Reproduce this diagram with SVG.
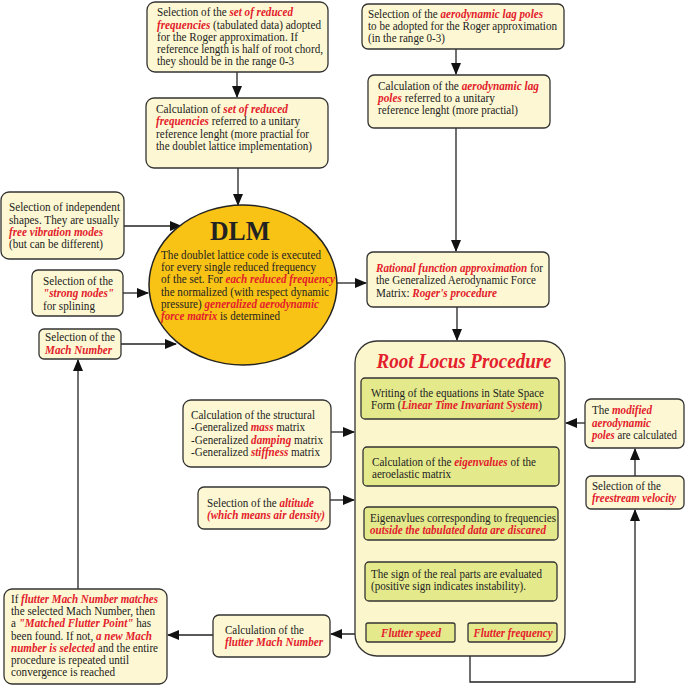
<svg xmlns="http://www.w3.org/2000/svg" width="685" height="685" viewBox="0 0 685 685">
<style>
text{font-family:"Liberation Serif","Times New Roman",serif;font-size:11.5px;fill:#222}
.r{font-style:italic;font-weight:bold;fill:#e3202b}
.bx{fill:#fdf8d3;stroke:#333;stroke-width:1.3}
.gb{fill:#e4e98c;stroke:#333;stroke-width:1.3}
.ln{fill:none;stroke:#222;stroke-width:1.3}
</style>
<defs>
<marker id="ah" markerWidth="12" markerHeight="10" refX="11" refY="5" orient="auto" markerUnits="userSpaceOnUse"><path d="M0,0 L12,5 L0,10 Z" fill="#111"/></marker>
</defs>
<g id="connectors">
<line class="ln" x1="237" y1="72" x2="237" y2="97" marker-end="url(#ah)"/>
<line class="ln" x1="238" y1="168" x2="238" y2="205" marker-end="url(#ah)"/>
<line class="ln" x1="456" y1="49" x2="456" y2="74" marker-end="url(#ah)"/>
<line class="ln" x1="456" y1="128" x2="456" y2="251" marker-end="url(#ah)"/>
<line class="ln" x1="124" y1="226" x2="181" y2="226" marker-end="url(#ah)"/>
<line class="ln" x1="123" y1="293" x2="148" y2="293" marker-end="url(#ah)"/>
<line class="ln" x1="121" y1="344" x2="176" y2="344" marker-end="url(#ah)"/>
<line class="ln" x1="337" y1="283" x2="366" y2="283" marker-end="url(#ah)"/>
<line class="ln" x1="457" y1="307" x2="457" y2="340" marker-end="url(#ah)"/>
<line class="ln" x1="331" y1="432" x2="354" y2="432" marker-end="url(#ah)"/>
<line class="ln" x1="330" y1="500" x2="354" y2="500" marker-end="url(#ah)"/>
<line class="ln" x1="585" y1="423" x2="566" y2="423" marker-end="url(#ah)"/>
<line class="ln" x1="635" y1="476" x2="635" y2="449" marker-end="url(#ah)"/>
<polyline class="ln" points="470,656 470,682 635,682 635,510" marker-end="url(#ah)"/>
<line class="ln" x1="459" y1="419" x2="459" y2="446" marker-end="url(#ah)"/>
<line class="ln" x1="458" y1="486" x2="458" y2="506" marker-end="url(#ah)"/>
<line class="ln" x1="459" y1="540" x2="459" y2="561" marker-end="url(#ah)"/>
<line class="ln" x1="407" y1="601" x2="407" y2="622" marker-end="url(#ah)"/>
<line class="ln" x1="510" y1="601" x2="510" y2="622" marker-end="url(#ah)"/>
<line class="ln" x1="366" y1="634" x2="331" y2="634" marker-end="url(#ah)"/>
<line class="ln" x1="213" y1="635" x2="168" y2="635" marker-end="url(#ah)"/>
<line class="ln" x1="78" y1="589" x2="78" y2="360" marker-end="url(#ah)"/>
</g>
<g id="nA"><rect class="bx" x="147" y="2" width="181" height="70" rx="8"/>
<text x="157" y="16" textLength="136" lengthAdjust="spacingAndGlyphs">Selection of the <tspan class="r">set of reduced</tspan></text>
<text x="157" y="28.5" textLength="164" lengthAdjust="spacingAndGlyphs"><tspan class="r">frequencies</tspan> (tabulated data) adopted</text>
<text x="157" y="41" textLength="141" lengthAdjust="spacingAndGlyphs">for the Roger approximation. If</text>
<text x="157" y="53" textLength="166" lengthAdjust="spacingAndGlyphs">reference length is half of root chord,</text>
<text x="157" y="65" textLength="137" lengthAdjust="spacingAndGlyphs">they should be in the range 0-3</text></g>
<g id="nB"><rect class="bx" x="146" y="98" width="182" height="70" rx="8"/>
<text x="156" y="113" textLength="132" lengthAdjust="spacingAndGlyphs">Calculation of  <tspan class="r">set of reduced</tspan></text>
<text x="156" y="125" textLength="144" lengthAdjust="spacingAndGlyphs"><tspan class="r">frequencies</tspan> referred to a unitary</text>
<text x="156" y="138" textLength="153" lengthAdjust="spacingAndGlyphs">reference lenght (more practial for</text>
<text x="156" y="150" textLength="156" lengthAdjust="spacingAndGlyphs">the doublet lattice implementation)</text></g>
<g id="nC"><rect class="bx" x="362" y="4" width="202" height="45" rx="6"/>
<text x="368" y="18" textLength="175" lengthAdjust="spacingAndGlyphs">Selection of the <tspan class="r">aerodynamic lag poles</tspan></text>
<text x="368" y="30" textLength="189" lengthAdjust="spacingAndGlyphs">to be adopted for the Roger approximation</text>
<text x="368" y="42" textLength="77" lengthAdjust="spacingAndGlyphs">(in the range 0-3)</text></g>
<g id="nD"><rect class="bx" x="368" y="75" width="182" height="53" rx="6"/>
<text x="378" y="90" textLength="161" lengthAdjust="spacingAndGlyphs">Calculation of the  <tspan class="r">aerodynamic lag</tspan></text>
<text x="378" y="102" textLength="117" lengthAdjust="spacingAndGlyphs"><tspan class="r">poles</tspan>  referred to a unitary</text>
<text x="378" y="114" textLength="140" lengthAdjust="spacingAndGlyphs">reference lenght (more practial)</text></g>
<g id="nE"><rect class="bx" x="1" y="192" width="123" height="67" rx="8"/>
<text x="9" y="211" textLength="111" lengthAdjust="spacingAndGlyphs">Selection of independent</text>
<text x="9" y="224" textLength="110" lengthAdjust="spacingAndGlyphs">shapes. They are usually</text>
<text x="9" y="236" textLength="94" lengthAdjust="spacingAndGlyphs" class="r">free vibration modes</text>
<text x="9" y="248" textLength="94" lengthAdjust="spacingAndGlyphs">(but can be different)</text></g>
<g id="nF"><rect class="bx" x="32" y="270" width="91" height="46" rx="6"/>
<text x="43" y="285" textLength="70" lengthAdjust="spacingAndGlyphs">Selection of the</text>
<text x="43" y="297" textLength="71" lengthAdjust="spacingAndGlyphs" class="r">"strong nodes"</text>
<text x="43" y="310" textLength="52" lengthAdjust="spacingAndGlyphs">for splining</text></g>
<g id="nG"><rect class="bx" x="39" y="329" width="82" height="30" rx="5"/>
<text x="45" y="341" textLength="70" lengthAdjust="spacingAndGlyphs">Selection of the</text>
<text x="45" y="354" textLength="67" lengthAdjust="spacingAndGlyphs" class="r">Mach Number</text></g>
<g id="nDLM"><ellipse cx="243" cy="285" rx="94" ry="80" fill="#f9c316" stroke="#222" stroke-width="1.5"/>
<text x="240" y="240" text-anchor="middle" style="font-size:28px;font-weight:bold" textLength="60" lengthAdjust="spacingAndGlyphs">DLM</text>
<text x="161" y="259" textLength="160" lengthAdjust="spacingAndGlyphs">The doublet lattice code is executed</text>
<text x="161" y="271" textLength="155" lengthAdjust="spacingAndGlyphs">for every single reduced frequency</text>
<text x="161" y="283" textLength="174" lengthAdjust="spacingAndGlyphs">of the set. For <tspan class="r">each reduced frequency</tspan></text>
<text x="161" y="296" textLength="168" lengthAdjust="spacingAndGlyphs">the normalized (with respect dynamic</text>
<text x="161" y="308" textLength="158" lengthAdjust="spacingAndGlyphs">pressure) <tspan class="r">generalized aerodynamic</tspan></text>
<text x="161" y="320" textLength="119" lengthAdjust="spacingAndGlyphs"><tspan class="r">force matrix</tspan> is determined</text></g>
<g id="nRat"><rect class="bx" x="367" y="252" width="182" height="55" rx="6"/>
<text x="376" y="272" textLength="167" lengthAdjust="spacingAndGlyphs"><tspan class="r">Rational function approximation</tspan> for</text>
<text x="376" y="284" textLength="160" lengthAdjust="spacingAndGlyphs">the Generalized Aerodynamic Force</text>
<text x="376" y="297" textLength="121" lengthAdjust="spacingAndGlyphs">Matrix: <tspan class="r">Roger's procedure</tspan></text></g>
<g id="nRoot"><rect x="355" y="341" width="210" height="315" rx="22" fill="#fcf6cd" stroke="#333" stroke-width="1.3"/>
<text x="464" y="368" text-anchor="middle" class="r" style="font-size:20px" textLength="175" lengthAdjust="spacingAndGlyphs">Root Locus Procedure</text></g>
<g id="n1"><rect class="gb" x="361" y="378" width="198" height="41" rx="4"/>
<text x="371" y="397" textLength="173" lengthAdjust="spacingAndGlyphs">Writing of the equations in State Space</text>
<text x="371" y="409" textLength="171" lengthAdjust="spacingAndGlyphs">Form (<tspan class="r">Linear Time Invariant System</tspan>)</text></g>
<g id="n2"><rect class="gb" x="363" y="447" width="196" height="39" rx="4"/>
<text x="372" y="466" textLength="164" lengthAdjust="spacingAndGlyphs">Calculation of the <tspan class="r">eigenvalues</tspan> of the</text>
<text x="372" y="478" textLength="79" lengthAdjust="spacingAndGlyphs">aeroelastic matrix</text></g>
<g id="n3"><rect class="gb" x="364" y="507" width="194" height="33" rx="4"/>
<text x="370" y="522" textLength="186" lengthAdjust="spacingAndGlyphs">Eigenavlues corresponding to frequencies</text>
<text x="370" y="534" textLength="176" lengthAdjust="spacingAndGlyphs" class="r">outside the tabulated data are discared</text></g>
<g id="n4"><rect class="gb" x="365" y="562" width="192" height="39" rx="4"/>
<text x="371" y="578" textLength="171" lengthAdjust="spacingAndGlyphs">The sign of the real parts are evaluated</text>
<text x="371" y="590" textLength="155" lengthAdjust="spacingAndGlyphs">(positive sign indicates instability).</text></g>
<g id="nFS"><rect class="gb" x="366" y="623" width="89" height="19" rx="2"/>
<text x="411" y="637" text-anchor="middle" class="r" textLength="60" lengthAdjust="spacingAndGlyphs">Flutter speed</text></g>
<g id="nFF"><rect class="gb" x="468" y="623" width="89" height="19" rx="2"/>
<text x="513" y="637" text-anchor="middle" class="r" textLength="79" lengthAdjust="spacingAndGlyphs">Flutter frequency</text></g>
<g id="nStruct"><rect class="bx" x="183" y="400" width="148" height="67" rx="8"/>
<text x="191" y="419" textLength="124" lengthAdjust="spacingAndGlyphs">Calculation of the structural</text>
<text x="191" y="431" textLength="114" lengthAdjust="spacingAndGlyphs">-Generalized <tspan class="r">mass</tspan> matrix</text>
<text x="191" y="444" textLength="132" lengthAdjust="spacingAndGlyphs">-Generalized <tspan class="r">damping</tspan> matrix</text>
<text x="191" y="456" textLength="129" lengthAdjust="spacingAndGlyphs">-Generalized <tspan class="r">stiffness</tspan> matrix</text></g>
<g id="nAlt"><rect class="bx" x="198" y="487" width="132" height="42" rx="6"/>
<text x="207" y="507" textLength="107" lengthAdjust="spacingAndGlyphs">Selection of the <tspan class="r">altitude</tspan></text>
<text x="207" y="519" textLength="118" lengthAdjust="spacingAndGlyphs" class="r">(which means air density)</text></g>
<g id="nMod"><rect class="bx" x="585" y="399" width="99" height="49" rx="6"/>
<text x="592" y="414" textLength="60" lengthAdjust="spacingAndGlyphs">The <tspan class="r">modified</tspan></text>
<text x="592" y="427" textLength="59" lengthAdjust="spacingAndGlyphs" class="r">aerodynamic</text>
<text x="592" y="439" textLength="85" lengthAdjust="spacingAndGlyphs"><tspan class="r">poles</tspan> are calculated</text></g>
<g id="nFree"><rect class="bx" x="586" y="476" width="98" height="33" rx="5"/>
<text x="592" y="490" textLength="69" lengthAdjust="spacingAndGlyphs">Selection of the</text>
<text x="592" y="502" textLength="84" lengthAdjust="spacingAndGlyphs" class="r">freestream velocity</text></g>
<g id="nCalcM"><rect class="bx" x="213" y="615" width="117" height="42" rx="6"/>
<text x="225" y="634" textLength="79" lengthAdjust="spacingAndGlyphs">Calculation of the</text>
<text x="225" y="646" textLength="98" lengthAdjust="spacingAndGlyphs" class="r">flutter Mach Number</text></g>
<g id="nIf"><rect class="bx" x="4" y="589" width="163" height="95" rx="8"/>
<text x="11" y="603" textLength="147" lengthAdjust="spacingAndGlyphs">If <tspan class="r">flutter Mach Number matches</tspan></text>
<text x="11" y="615" textLength="144" lengthAdjust="spacingAndGlyphs">the selected Mach Number, then</text>
<text x="11" y="627" textLength="140" lengthAdjust="spacingAndGlyphs">a <tspan class="r">"Matched Flutter Point"</tspan> has</text>
<text x="11" y="640" textLength="141" lengthAdjust="spacingAndGlyphs">been found. If not, <tspan class="r">a new Mach</tspan></text>
<text x="11" y="652" textLength="147" lengthAdjust="spacingAndGlyphs"><tspan class="r">number is selected</tspan> and the entire</text>
<text x="11" y="664" textLength="118" lengthAdjust="spacingAndGlyphs">procedure is repeated until</text>
<text x="11" y="676" textLength="104" lengthAdjust="spacingAndGlyphs">convergence is reached</text></g>
</svg>
